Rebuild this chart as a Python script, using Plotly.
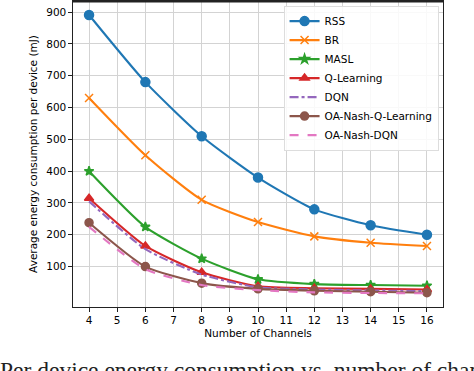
import plotly.graph_objects as go

channels = [4, 6, 8, 10, 12, 14, 16]
rss = [891, 680, 510, 380, 280, 230, 200]
br = [630, 450, 310, 240, 195, 175, 165]
masl = [400, 225, 125, 60, 45, 42, 40]
q_learning = [315, 165, 82, 38, 32, 30, 28]
dqn = [305, 155, 75, 35, 28, 25, 23]
oa_nash_q = [238, 100, 48, 30, 24, 21, 18]
oa_nash_dqn = [225, 92, 42, 26, 19, 17, 16]

x_ticks = list(range(4, 17))
y_ticks = [100, 200, 300, 400, 500, 600, 700, 800, 900]

series = [
    ("RSS", rss, "#1f77b4", "solid", "circle", 9),
    ("BR", br, "#ff7f0e", "solid", "x-thin-open", 8),
    ("MASL", masl, "#2ca02c", "solid", "star", 7),
    ("Q-Learning", q_learning, "#d62728", "solid", "triangle-up", 8),
    ("DQN", dqn, "#9467bd", "dashdot", None, 0),
    ("OA-Nash-Q-Learning", oa_nash_q, "#8c564b", "solid", "circle", 8),
    ("OA-Nash-DQN", oa_nash_dqn, "#e377c2", "dash", None, 0),
]

fig = go.Figure()
for name, vals, color, dash, sym, size in series:
    mode = "lines+markers" if sym else "lines"
    marker = dict(symbol=sym, size=size, color=color,
                  line=dict(color=color, width=1.5)) if sym else None
    fig.add_trace(go.Scatter(
        x=channels, y=vals, name=name, mode=mode,
        line=dict(color=color, width=2.1, dash=dash, shape="spline", smoothing=0.6),
        marker=marker,
    ))

font = "DejaVu Sans, Verdana, sans-serif"
fig.update_layout(
    width=474, height=371,
    margin=dict(l=73, r=31, t=1, b=64, autoexpand=False),
    plot_bgcolor="white", paper_bgcolor="white",
    font=dict(family=font, size=10.5, color="black"),
    showlegend=True,
    legend=dict(
        x=0.988, y=0.985, xanchor="right", yanchor="top",
        bgcolor="rgba(255,255,255,0.85)", bordercolor="#dddddd", borderwidth=1,
        font=dict(family=font, size=10.5), tracegroupgap=0,
        itemwidth=30,
    ),
    xaxis=dict(
        range=[3.43, 16.57], tickmode="array", tickvals=x_ticks,
        ticktext=[str(v) for v in x_ticks], automargin=False,
        showgrid=True, gridcolor="#d3d3d3", gridwidth=1,
        showline=True, linecolor="#222222", linewidth=1.2, mirror=True,
        ticks="outside", ticklen=3.5, tickcolor="#222222",
        zeroline=False,
        title=dict(text="Number of Channels", standoff=4, font=dict(size=10.5)),
    ),
    yaxis=dict(
        range=[-27, 935], tickmode="array", tickvals=y_ticks,
        ticktext=[str(v) for v in y_ticks], automargin=False,
        showgrid=True, gridcolor="#d3d3d3", gridwidth=1,
        showline=True, linecolor="#222222", linewidth=1.2, mirror=True,
        ticks="outside", ticklen=3.5, tickcolor="#222222",
        zeroline=False,
        title=dict(text="Average energy consumption per device (mJ)", standoff=6,
                   font=dict(size=10.5)),
    ),
)

fig.add_shape(type="line", xref="paper", yref="paper", x0=0, x1=1, y0=1.0, y1=1.0,
              line=dict(color="#222222", width=3))

fig.add_annotation(
    text="Per device energy consumption vs. number of channels",
    xref="paper", yref="paper", x=-0.203, y=-0.254,
    xanchor="left", yanchor="bottom", showarrow=False,
    font=dict(family="Liberation Serif, Times New Roman, serif", size=23.5, color="#222222"),
)

fig.write_html(
    "out.html",
    config={"displayModeBar": False},
    post_script="document.body.style.margin='0';document.body.style.overflow='hidden';",
)
